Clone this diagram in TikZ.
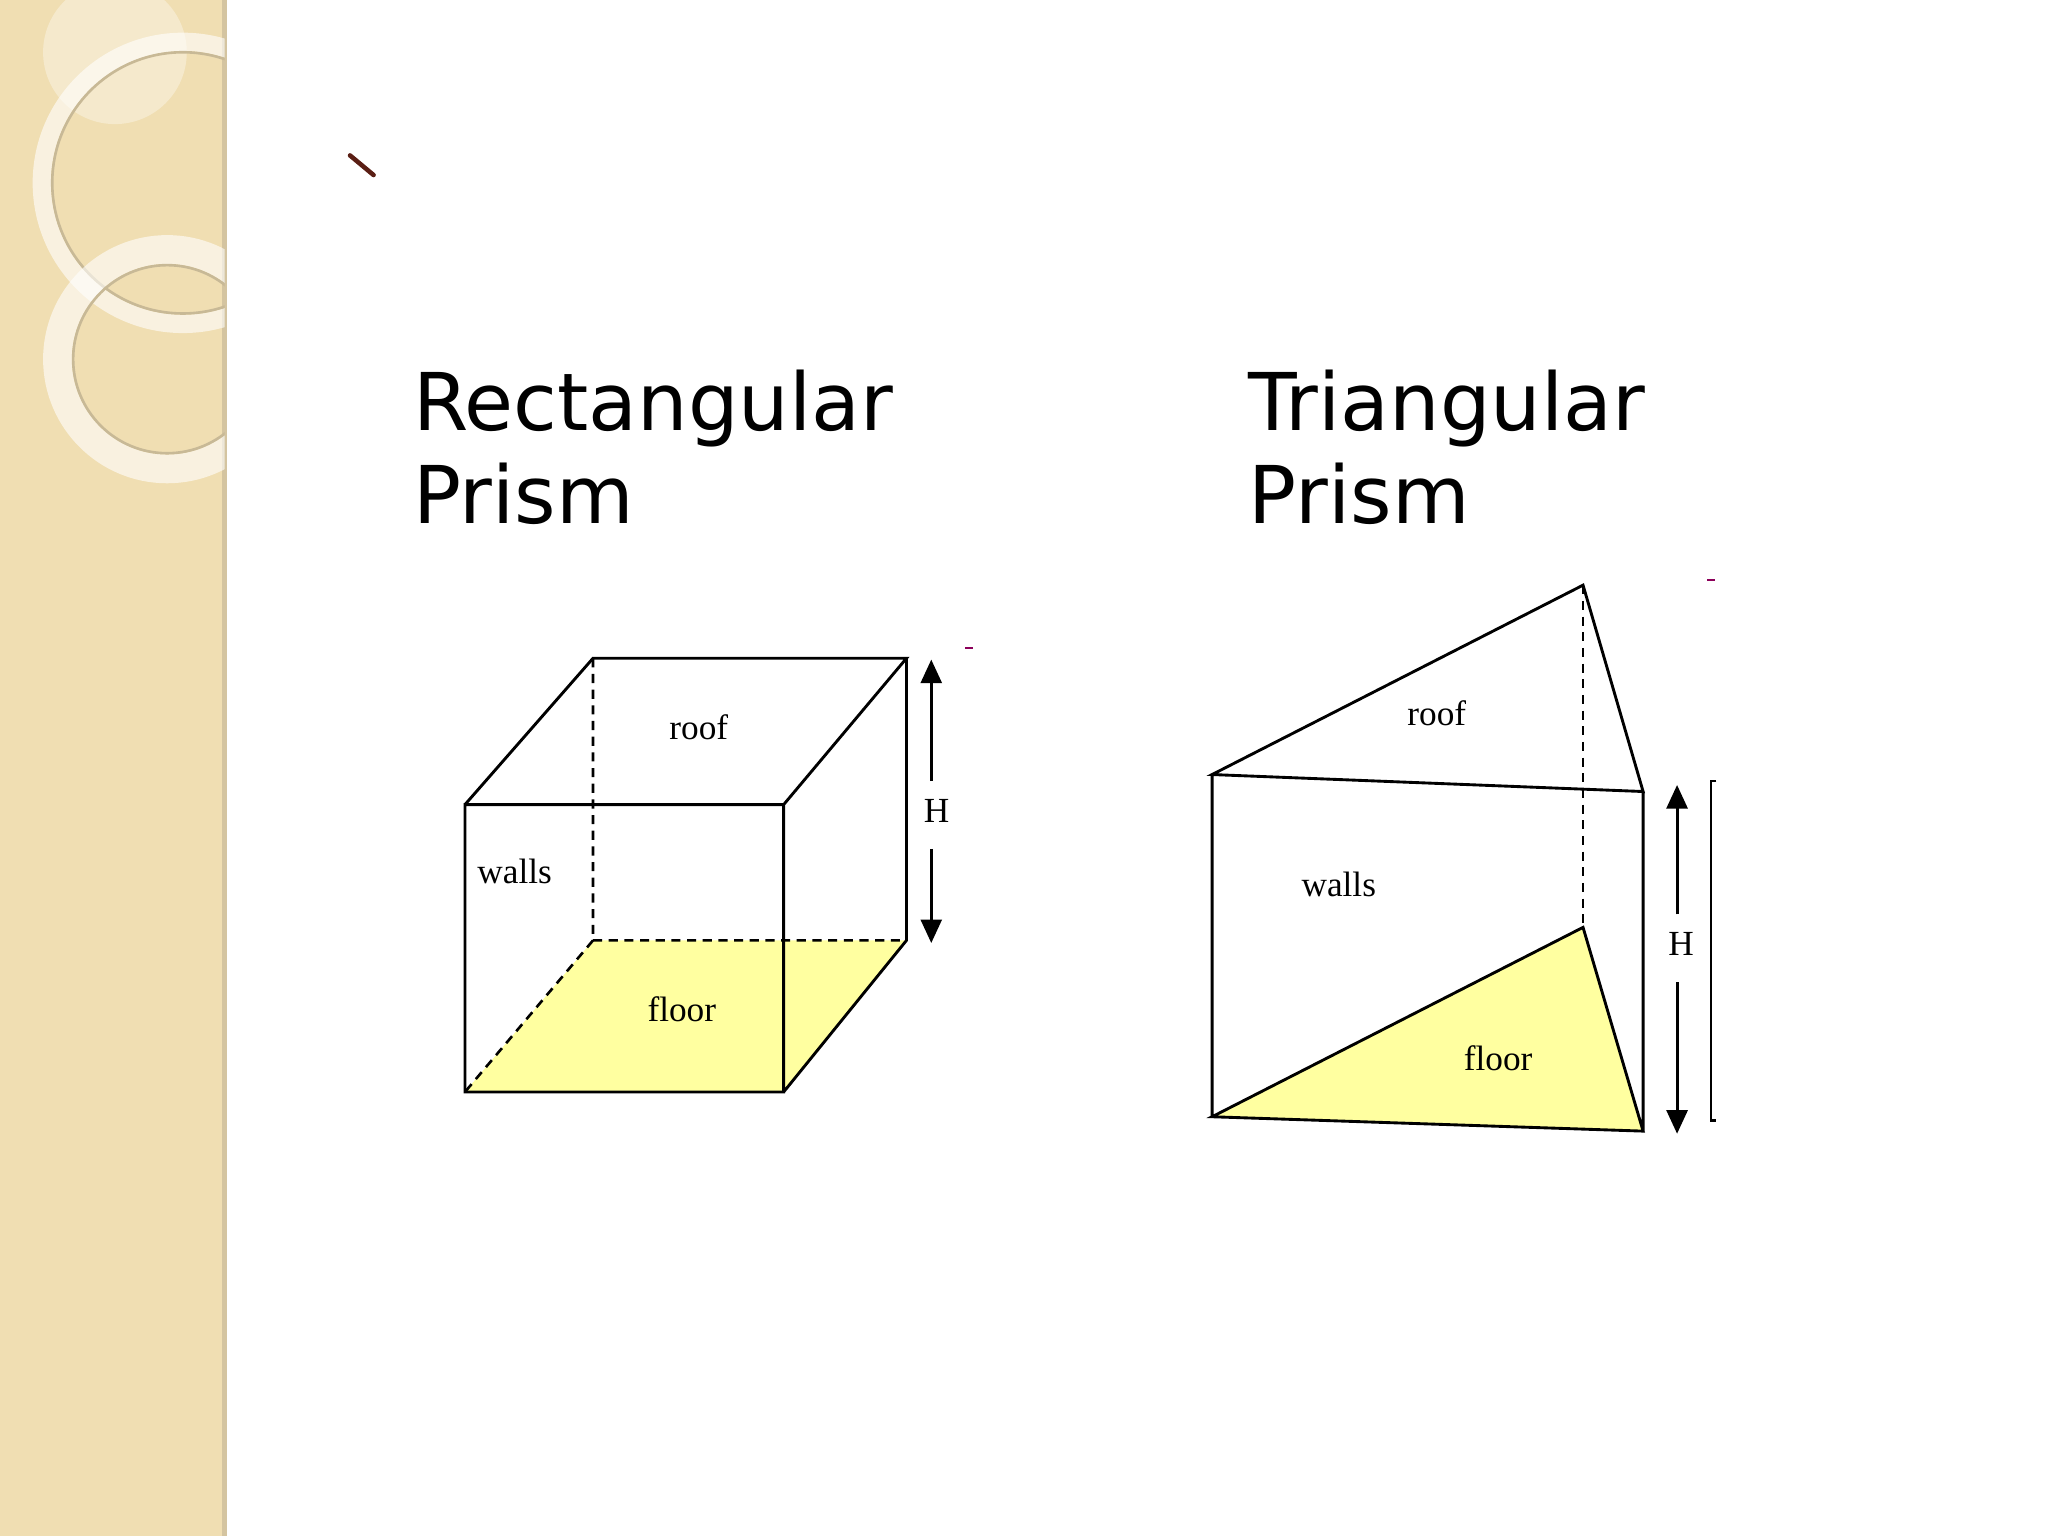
\documentclass[tikz,border=0pt]{standalone}
\usepackage{fontspec}
\setmainfont{Liberation Serif}
\newfontfamily\titlefont{DejaVu Sans}
\usetikzlibrary{arrows.meta}
\begin{document}
\begin{tikzpicture}[x=1pt,y=-1pt,
  edge/.style={line width=2.2pt},
  hidden/.style={line width=2pt,dash pattern=on 7pt off 5pt},
  lbl/.style={font=\fontsize{27}{29}\selectfont},
  ttl/.style={font=\titlefont\fontsize{61}{71}\selectfont,align=left,anchor=north west,inner sep=0pt},
  harrow/.style={line width=2.2pt,-{Triangle[length=18pt,width=16pt]}}]
\useasboundingbox (0,0) rectangle (1568,1176);
\fill[white] (0,0) rectangle (1568,1176);
% left strip
\fill[color={rgb,255:red,240;green,222;blue,178}] (0,0) rectangle (172,1176);
\fill[color={rgb,255:red,212;green,196;blue,160}] (170,0) rectangle (174,1176);
\begin{scope}
\clip (0,0) rectangle (172,1176);
\fill[white,opacity=0.35] (88,40) circle (55);
\draw[white,opacity=0.6,line width=14pt] (140,140) circle (108);
\draw[color={rgb,255:red,200;green,185;blue,150},line width=2pt] (140,140) circle (100);
\draw[white,opacity=0.6,line width=22pt] (128,275) circle (84);
\draw[color={rgb,255:red,200;green,185;blue,150},line width=2pt] (128,275) circle (72);
\end{scope}
\coordinate (tk1) at (268,119); \coordinate (tk2) at (286,134);
\draw[color={rgb,255:red,90;green,30;blue,20},line width=3.5pt,line cap=round] (tk1)--(tk2);
% titles
\node[ttl] (t1) at (316,283) {Rectangular\\Prism};
\node[ttl] (t2) at (956,283) {Triangular\\Prism};
% rectangular prism
\coordinate (fa) at (356,616); \coordinate (fb) at (600,616);
\coordinate (fc) at (600,836); \coordinate (fd) at (356,836);
\coordinate (ba) at (454,504); \coordinate (bb) at (694,504);
\coordinate (bc) at (694,720); \coordinate (bd) at (454,720);
\fill[color={rgb,255:red,255;green,255;blue,160}] (fd)--(bd)--(bc)--(fc)--cycle;
\draw[hidden] (ba)--(bd)--(bc) (bd)--(fd);
\draw[edge] (fa)--(fb)--(fc)--(fd)--cycle (fa)--(ba)--(bb)--(fb) (bb)--(bc)--(fc);
\node[lbl] (roof1) at (535,557) {roof};
\node[lbl] (walls1) at (394,667) {walls};
\node[lbl] (floor1) at (522,773) {floor};
\node[lbl] (h1) at (717,621) {H};
\coordinate (h1t) at (713,505); \coordinate (h1b) at (713,722);
\draw[harrow] (713,598) -- (h1t);
\draw[harrow] (713,650) -- (h1b);
\fill[color={rgb,255:red,140;green,0;blue,90}] (739,495) rectangle (745,497);
% triangular prism
\coordinate (ta) at (928,593); \coordinate (tb) at (1212,448); \coordinate (tc) at (1258,606);
\coordinate (la) at (928,855); \coordinate (lb) at (1212,710); \coordinate (lc) at (1258,866);
\fill[color={rgb,255:red,255;green,255;blue,160}] (la)--(lb)--(lc)--cycle;
\draw[hidden] (tb)--(lb);
\draw[edge] (ta)--(tb)--(tc)--cycle (ta)--(la) (tc)--(lc) (la)--(lb)--(lc)--cycle;
\node[lbl] (roof2) at (1100,546) {roof};
\node[lbl] (walls2) at (1025,677) {walls};
\node[lbl] (floor2) at (1147,810) {floor};
\node[lbl] (h2) at (1287,723) {H};
\coordinate (h2t) at (1284,601); \coordinate (h2b) at (1284,868);
\draw[harrow] (1284,700) -- (h2t);
\draw[harrow] (1284,752) -- (h2b);
\draw[line width=1.8pt] (1314,598)--(1310,598)--(1310,858)--(1314,858);
\fill[color={rgb,255:red,140;green,0;blue,90}] (1307,443) rectangle (1313,445);
\end{tikzpicture}
\end{document}
